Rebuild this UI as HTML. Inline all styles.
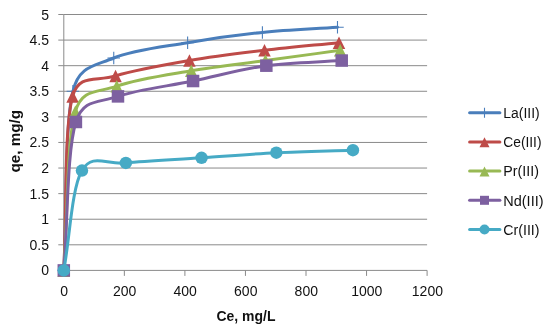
<!DOCTYPE html>
<html><head><meta charset="utf-8"><title>chart</title>
<style>html,body{margin:0;padding:0;background:#fff}svg{display:block}</style></head>
<body>
<svg width="550" height="332" viewBox="0 0 550 332" font-family="'Liberation Sans', sans-serif">
<rect width="550" height="332" fill="#fff"/>
<line x1="63.80" y1="244.81" x2="427.10" y2="244.81" stroke="#8a8a8a" stroke-width="1"/>
<line x1="63.80" y1="219.22" x2="427.10" y2="219.22" stroke="#8a8a8a" stroke-width="1"/>
<line x1="63.80" y1="193.63" x2="427.10" y2="193.63" stroke="#8a8a8a" stroke-width="1"/>
<line x1="63.80" y1="168.04" x2="427.10" y2="168.04" stroke="#8a8a8a" stroke-width="1"/>
<line x1="63.80" y1="142.45" x2="427.10" y2="142.45" stroke="#8a8a8a" stroke-width="1"/>
<line x1="63.80" y1="116.86" x2="427.10" y2="116.86" stroke="#8a8a8a" stroke-width="1"/>
<line x1="63.80" y1="91.27" x2="427.10" y2="91.27" stroke="#8a8a8a" stroke-width="1"/>
<line x1="63.80" y1="65.68" x2="427.10" y2="65.68" stroke="#8a8a8a" stroke-width="1"/>
<line x1="63.80" y1="40.09" x2="427.10" y2="40.09" stroke="#8a8a8a" stroke-width="1"/>
<line x1="63.80" y1="14.50" x2="427.10" y2="14.50" stroke="#8a8a8a" stroke-width="1"/>
<line x1="63.80" y1="14.50" x2="63.80" y2="270.40" stroke="#8a8a8a" stroke-width="1"/>
<line x1="63.80" y1="270.40" x2="427.10" y2="270.40" stroke="#8a8a8a" stroke-width="1"/>
<line x1="58.30" y1="270.40" x2="63.80" y2="270.40" stroke="#8a8a8a" stroke-width="1"/>
<line x1="58.30" y1="244.81" x2="63.80" y2="244.81" stroke="#8a8a8a" stroke-width="1"/>
<line x1="58.30" y1="219.22" x2="63.80" y2="219.22" stroke="#8a8a8a" stroke-width="1"/>
<line x1="58.30" y1="193.63" x2="63.80" y2="193.63" stroke="#8a8a8a" stroke-width="1"/>
<line x1="58.30" y1="168.04" x2="63.80" y2="168.04" stroke="#8a8a8a" stroke-width="1"/>
<line x1="58.30" y1="142.45" x2="63.80" y2="142.45" stroke="#8a8a8a" stroke-width="1"/>
<line x1="58.30" y1="116.86" x2="63.80" y2="116.86" stroke="#8a8a8a" stroke-width="1"/>
<line x1="58.30" y1="91.27" x2="63.80" y2="91.27" stroke="#8a8a8a" stroke-width="1"/>
<line x1="58.30" y1="65.68" x2="63.80" y2="65.68" stroke="#8a8a8a" stroke-width="1"/>
<line x1="58.30" y1="40.09" x2="63.80" y2="40.09" stroke="#8a8a8a" stroke-width="1"/>
<line x1="58.30" y1="14.50" x2="63.80" y2="14.50" stroke="#8a8a8a" stroke-width="1"/>
<line x1="63.80" y1="270.40" x2="63.80" y2="275.90" stroke="#8a8a8a" stroke-width="1"/>
<line x1="124.35" y1="270.40" x2="124.35" y2="275.90" stroke="#8a8a8a" stroke-width="1"/>
<line x1="184.90" y1="270.40" x2="184.90" y2="275.90" stroke="#8a8a8a" stroke-width="1"/>
<line x1="245.45" y1="270.40" x2="245.45" y2="275.90" stroke="#8a8a8a" stroke-width="1"/>
<line x1="306.00" y1="270.40" x2="306.00" y2="275.90" stroke="#8a8a8a" stroke-width="1"/>
<line x1="366.55" y1="270.40" x2="366.55" y2="275.90" stroke="#8a8a8a" stroke-width="1"/>
<line x1="427.10" y1="270.40" x2="427.10" y2="275.90" stroke="#8a8a8a" stroke-width="1"/>
<text x="49" y="275.40" font-size="14.0" text-anchor="end" fill="#111">0</text>
<text x="49" y="249.81" font-size="14.0" text-anchor="end" fill="#111">0.5</text>
<text x="49" y="224.22" font-size="14.0" text-anchor="end" fill="#111">1</text>
<text x="49" y="198.63" font-size="14.0" text-anchor="end" fill="#111">1.5</text>
<text x="49" y="173.04" font-size="14.0" text-anchor="end" fill="#111">2</text>
<text x="49" y="147.45" font-size="14.0" text-anchor="end" fill="#111">2.5</text>
<text x="49" y="121.86" font-size="14.0" text-anchor="end" fill="#111">3</text>
<text x="49" y="96.27" font-size="14.0" text-anchor="end" fill="#111">3.5</text>
<text x="49" y="70.68" font-size="14.0" text-anchor="end" fill="#111">4</text>
<text x="49" y="45.09" font-size="14.0" text-anchor="end" fill="#111">4.5</text>
<text x="49" y="19.50" font-size="14.0" text-anchor="end" fill="#111">5</text>
<text x="64.10" y="296.4" font-size="14.0" text-anchor="middle" fill="#111">0</text>
<text x="124.65" y="296.4" font-size="14.0" text-anchor="middle" fill="#111">200</text>
<text x="185.20" y="296.4" font-size="14.0" text-anchor="middle" fill="#111">400</text>
<text x="245.75" y="296.4" font-size="14.0" text-anchor="middle" fill="#111">600</text>
<text x="306.30" y="296.4" font-size="14.0" text-anchor="middle" fill="#111">800</text>
<text x="366.85" y="296.4" font-size="14.0" text-anchor="middle" fill="#111">1000</text>
<text x="427.40" y="296.4" font-size="14.0" text-anchor="middle" fill="#111">1200</text>
<text x="246" y="321" font-size="13.8" font-weight="bold" text-anchor="middle" fill="#111" textLength="59" lengthAdjust="spacingAndGlyphs">Ce, mg/L</text>
<text transform="translate(20.3,141.3) rotate(-90)" font-size="13.8" font-weight="bold" text-anchor="middle" fill="#111" textLength="62.5" lengthAdjust="spacingAndGlyphs">qe, mg/g</text>
<path d="M63.80,270.40 C66.83,210.69 64.56,126.67 72.88,91.27 C78.92,65.62 94.63,66.11 113.75,58.00 C132.88,49.90 162.85,46.91 187.62,42.65 C212.40,38.38 237.43,34.97 262.40,32.41 C287.38,29.85 312.46,29.00 337.49,27.29" fill="none" stroke="#4A7EBB" stroke-width="3" stroke-linecap="round" stroke-linejoin="round"/>
<path d="M57.55,270.40H70.05M63.80,264.15V276.65" stroke="#4A7EBB" stroke-width="1.1" fill="none"/>
<path d="M66.63,91.27H79.13M72.88,85.02V97.52" stroke="#4A7EBB" stroke-width="1.1" fill="none"/>
<path d="M107.50,58.00H120.00M113.75,51.75V64.25" stroke="#4A7EBB" stroke-width="1.1" fill="none"/>
<path d="M181.37,42.65H193.87M187.62,36.40V48.90" stroke="#4A7EBB" stroke-width="1.1" fill="none"/>
<path d="M256.15,32.41H268.65M262.40,26.16V38.66" stroke="#4A7EBB" stroke-width="1.1" fill="none"/>
<path d="M331.24,27.29H343.74M337.49,21.04V33.54" stroke="#4A7EBB" stroke-width="1.1" fill="none"/>
<path d="M63.80,270.40 C66.73,212.40 63.95,128.80 72.58,96.39 C78.70,73.38 96.09,81.89 115.57,75.92 C135.05,69.94 164.62,64.83 189.44,60.56 C214.27,56.30 239.60,53.31 264.52,50.33 C289.45,47.34 314.17,45.21 339.00,42.65" fill="none" stroke="#BE4B48" stroke-width="3" stroke-linecap="round" stroke-linejoin="round"/>
<path d="M63.80,264.15L70.05,276.65L57.55,276.65Z" fill="#BE4B48"/>
<path d="M72.58,90.14L78.83,102.64L66.33,102.64Z" fill="#BE4B48"/>
<path d="M115.57,69.67L121.82,82.17L109.32,82.17Z" fill="#BE4B48"/>
<path d="M189.44,54.31L195.69,66.81L183.19,66.81Z" fill="#BE4B48"/>
<path d="M264.52,44.08L270.77,56.58L258.27,56.58Z" fill="#BE4B48"/>
<path d="M339.00,36.40L345.25,48.90L332.75,48.90Z" fill="#BE4B48"/>
<path d="M63.80,270.40 C67.63,217.51 66.47,142.45 75.30,111.74 C82.04,88.32 97.46,92.98 116.78,86.15 C136.11,79.33 166.48,75.06 191.26,70.80 C216.03,66.53 240.61,63.97 265.43,60.56 C290.26,57.15 315.28,53.74 340.21,50.33" fill="none" stroke="#98B954" stroke-width="3" stroke-linecap="round" stroke-linejoin="round"/>
<path d="M63.80,264.15L70.05,276.65L57.55,276.65Z" fill="#98B954"/>
<path d="M75.30,105.49L81.55,117.99L69.05,117.99Z" fill="#98B954"/>
<path d="M116.78,79.90L123.03,92.40L110.53,92.40Z" fill="#98B954"/>
<path d="M191.26,64.55L197.51,77.05L185.01,77.05Z" fill="#98B954"/>
<path d="M265.43,54.31L271.68,66.81L259.18,66.81Z" fill="#98B954"/>
<path d="M340.21,44.08L346.46,56.58L333.96,56.58Z" fill="#98B954"/>
<path d="M63.80,270.40 C67.84,220.93 66.88,150.98 75.91,121.98 C83.23,98.47 98.46,103.21 117.99,96.39 C137.52,89.56 168.35,86.15 193.07,81.03 C217.80,75.92 241.56,69.09 266.34,65.68 C291.11,62.27 316.60,62.27 341.72,60.56" fill="none" stroke="#7D60A0" stroke-width="3" stroke-linecap="round" stroke-linejoin="round"/>
<rect x="57.55" y="264.15" width="12.50" height="12.50" fill="#7D60A0"/>
<rect x="69.66" y="115.73" width="12.50" height="12.50" fill="#7D60A0"/>
<rect x="111.74" y="90.14" width="12.50" height="12.50" fill="#7D60A0"/>
<rect x="186.82" y="74.78" width="12.50" height="12.50" fill="#7D60A0"/>
<rect x="260.09" y="59.43" width="12.50" height="12.50" fill="#7D60A0"/>
<rect x="335.47" y="54.31" width="12.50" height="12.50" fill="#7D60A0"/>
<path d="M63.80,270.40 C69.86,237.13 71.62,188.51 81.97,170.60 C92.31,152.69 105.93,165.05 125.86,162.92 C145.79,160.79 176.47,159.51 201.55,157.80 C226.63,156.10 251.10,153.97 276.33,152.69 C301.56,151.41 327.39,150.98 352.93,150.13" fill="none" stroke="#46AAC5" stroke-width="3" stroke-linecap="round" stroke-linejoin="round"/>
<circle cx="63.80" cy="270.40" r="6.25" fill="#46AAC5"/>
<circle cx="81.97" cy="170.60" r="6.25" fill="#46AAC5"/>
<circle cx="125.86" cy="162.92" r="6.25" fill="#46AAC5"/>
<circle cx="201.55" cy="157.80" r="6.25" fill="#46AAC5"/>
<circle cx="276.33" cy="152.69" r="6.25" fill="#46AAC5"/>
<circle cx="352.93" cy="150.13" r="6.25" fill="#46AAC5"/>
<line x1="469.6" y1="112.70" x2="499.9" y2="112.70" stroke="#4A7EBB" stroke-width="3" stroke-linecap="round"/>
<path d="M479.50,112.70H489.50M484.50,107.70V117.70" stroke="#4A7EBB" stroke-width="1.1" fill="none"/>
<text x="503.3" y="117.90" font-size="14.0" fill="#111" textLength="36.4" lengthAdjust="spacingAndGlyphs">La(III)</text>
<line x1="469.6" y1="141.90" x2="499.9" y2="141.90" stroke="#BE4B48" stroke-width="3" stroke-linecap="round"/>
<path d="M484.50,137.30L489.50,147.30L479.50,147.30Z" fill="#BE4B48"/>
<text x="503.3" y="147.10" font-size="14.0" fill="#111" textLength="38.2" lengthAdjust="spacingAndGlyphs">Ce(III)</text>
<line x1="469.6" y1="171.10" x2="499.9" y2="171.10" stroke="#98B954" stroke-width="3" stroke-linecap="round"/>
<path d="M484.50,166.50L489.50,176.50L479.50,176.50Z" fill="#98B954"/>
<text x="503.3" y="176.30" font-size="14.0" fill="#111" textLength="35.6" lengthAdjust="spacingAndGlyphs">Pr(III)</text>
<line x1="469.6" y1="200.30" x2="499.9" y2="200.30" stroke="#7D60A0" stroke-width="3" stroke-linecap="round"/>
<rect x="480.00" y="195.80" width="9.00" height="9.00" fill="#7D60A0"/>
<text x="503.3" y="205.50" font-size="14.0" fill="#111" textLength="40.2" lengthAdjust="spacingAndGlyphs">Nd(III)</text>
<line x1="469.6" y1="229.50" x2="499.9" y2="229.50" stroke="#46AAC5" stroke-width="3" stroke-linecap="round"/>
<circle cx="484.50" cy="229.50" r="5.00" fill="#46AAC5"/>
<text x="503.3" y="234.70" font-size="14.0" fill="#111" textLength="36.2" lengthAdjust="spacingAndGlyphs">Cr(III)</text>
</svg>
</body></html>
